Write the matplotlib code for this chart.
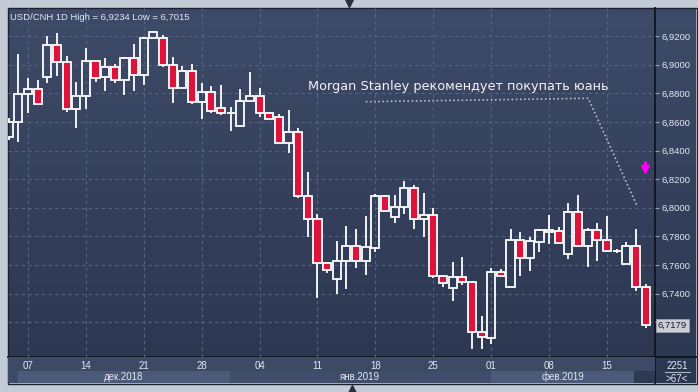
import numpy as np
import matplotlib
matplotlib.use("Agg")
import matplotlib.pyplot as plt
from matplotlib.colors import LinearSegmentedColormap
from matplotlib.patches import Rectangle
from matplotlib.transforms import blended_transform_factory

# USD/CNH daily candles, first (partly hidden) bar is index -1
opens = [6.8497, 6.8597, 6.8795, 6.8828, 6.8912, 6.9135, 6.9016, 6.8688, 6.8779, 6.9023,
         6.8912, 6.8981, 6.8891, 6.9044, 6.8926, 6.9184, 6.9184, 6.8997, 6.8835, 6.8956,
         6.8737, 6.8807, 6.8695, 6.8660, 6.8573, 6.8744, 6.8779, 6.8660, 6.8632, 6.8451,
         6.8527, 6.8085, 6.7920, 6.7612, 6.7501, 6.7631, 6.7733, 6.7631, 6.7721, 6.8080,
         6.7934, 6.8004, 6.8136, 6.7920, 6.7948, 6.7526, 6.7438, 6.7515, 6.7480, 6.7130,
         6.7089, 6.7554, 6.7445, 6.7773, 6.7647, 6.7763, 6.7833, 6.7836, 6.7675, 6.7973,
         6.7731, 6.7843, 6.7773, 6.7700, 6.7605, 6.7733, 6.7449]
closes = [6.8597, 6.8795, 6.8828, 6.8723, 6.9135, 6.9016, 6.8688, 6.8779, 6.9023, 6.8905,
          6.8981, 6.8891, 6.9044, 6.8926, 6.9184, 6.9226, 6.8997, 6.8835, 6.8956, 6.8737,
          6.8807, 6.8676, 6.8660, 6.8661, 6.8744, 6.8779, 6.8660, 6.8618, 6.8451, 6.8527,
          6.8085, 6.7920, 6.7612, 6.7566, 6.7631, 6.7733, 6.7631, 6.7724, 6.8080, 6.7976,
          6.8004, 6.8136, 6.7920, 6.7948, 6.7526, 6.7473, 6.7515, 6.7480, 6.7130, 6.7096,
          6.7554, 6.7527, 6.7773, 6.7647, 6.7768, 6.7843, 6.7843, 6.7752, 6.7973, 6.7731,
          6.7843, 6.7773, 6.7700, 6.7701, 6.7733, 6.7449, 6.7179]
highs = [6.8627, 6.9074, 6.8905, 6.8893, 6.9200, 6.9219, 6.9060, 6.8879, 6.9114, 6.9023,
         6.9046, 6.9007, 6.9055, 6.9144, 6.9195, 6.9234, 6.9207, 6.9051, 6.8993, 6.9004,
         6.8874, 6.8851, 6.8858, 6.8702, 6.8830, 6.8946, 6.8835, 6.8669, 6.8653, 6.8683,
         6.8555, 6.8248, 6.7957, 6.7612, 6.7768, 6.7873, 6.7852, 6.7943, 6.8096, 6.8089,
         6.8089, 6.8187, 6.8160, 6.8103, 6.7997, 6.7526, 6.7621, 6.7654, 6.7489, 6.7244,
         6.7577, 6.7573, 6.7852, 6.7831, 6.7796, 6.7852, 6.7950, 6.7864, 6.8032, 6.8089,
         6.7857, 6.7894, 6.7943, 6.7712, 6.7761, 6.7852, 6.7466]
lows = [6.8474, 6.8462, 6.8660, 6.8723, 6.8870, 6.8923, 6.8671, 6.8560, 6.8688, 6.8881,
        6.8818, 6.8870, 6.8790, 6.8818, 6.8860, 6.9184, 6.8981, 6.8730, 6.8835, 6.8723,
        6.8620, 6.8660, 6.8648, 6.8536, 6.8573, 6.8744, 6.8636, 6.8618, 6.8451, 6.8385,
        6.8071, 6.7798, 6.7372, 6.7547, 6.7396, 6.7433, 6.7582, 6.7531, 6.7693, 6.7976,
        6.7896, 6.7959, 6.7854, 6.7798, 6.7512, 6.7449, 6.7351, 6.7461, 6.7017, 6.7015,
        6.7047, 6.7527, 6.7445, 6.7526, 6.7561, 6.7693, 6.7747, 6.7752, 6.7645, 6.7731,
        6.7589, 6.7631, 6.7693, 6.7686, 6.7605, 6.7421, 6.7163]

day_ticks = [1, 7, 13, 19, 25, 31, 37, 43, 49, 55, 61]
day_labels = ["07", "14", "21", "28", "04", "11", "18", "25", "01", "08", "15"]
month_labels = ["дек.2018", "янв.2019", "фев.2019"]
month_edges = [-0.05, 21.9, 49.0, 63.8]
price_ticks = [6.72, 6.74, 6.76, 6.78, 6.80, 6.82, 6.84, 6.86, 6.88, 6.90, 6.92]
last_price = 6.7179
note_line_x = [36.0, 59.05, 64.07]
note_line_y = [6.8741, 6.8765, 6.8020]
signal_x, signal_y = 64.93, 6.8325

W, H = 698, 392
UP_BG = "#c3cbd7"
RED = "#dc143c"
TXT = "#e2e8f1"

fig = plt.figure(figsize=(W / 100, H / 100), dpi=100, facecolor=UP_BG)

# frame in pixel coordinates
frame = fig.add_axes([0, 0, 1, 1], zorder=0)
frame.set_xlim(0, W)
frame.set_ylim(H, 0)
frame.axis("off")
cmap = LinearSegmentedColormap.from_list("bg", ["#3e4b68", "#2b3650"])
frame.imshow(np.linspace(0, 1, 200).reshape(-1, 1), cmap=cmap, aspect="auto",
             extent=[8, 696, 383, 8], zorder=1)
frame.add_patch(Rectangle((7.5, 7.5), 689, 376, fill=False, ec="#1b2130", lw=1, zorder=2))
frame.plot([8, 696], [357, 357], color="#10141c", lw=1.3, zorder=3)
frame.plot([655, 655], [8, 383], color="#10141c", lw=1.3, zorder=3)
frame.plot([665, 690], [371.5, 371.5], color="#aab4c4", lw=0.8, zorder=3)
frame.text(677, 366, "2251", color=TXT, fontsize=7, ha="center", va="center",
           family="Liberation Sans", zorder=4)
frame.text(677, 379.5, ">67<", color=TXT, fontsize=7, ha="center", va="center",
           family="Liberation Sans", zorder=4)
frame.plot(349, 3, marker="v", ms=6, color="#2b3140", zorder=4)
frame.plot(352, 389, marker="^", ms=6, color="#2b3140", zorder=4)
frame.set_xlim(0, W)
frame.set_ylim(H, 0)

# price chart
ax = fig.add_axes([8 / W, (H - 357) / H, 647 / W, 349 / H], zorder=2)
ax.set_facecolor("none")
x = np.arange(len(opens)) - 1
o, c = np.array(opens), np.array(closes)
h, l = np.array(highs), np.array(lows)
top = np.maximum(o, c)
bot = np.minimum(o, c)
ax.vlines(x, top, h, color="white", lw=1.3, zorder=3)
ax.vlines(x, l, bot, color="white", lw=1.3, zorder=3)
faces = ["none" if cc >= oo else RED for oo, cc in zip(o, c)]
ax.bar(x, top - bot, bottom=bot, width=0.84, color=faces, edgecolor="white",
       linewidth=1.3, zorder=4)

ax.set_xlim(-1.067, 65.97)
ax.set_ylim(6.69579, 6.93956)
ax.set_xticks(day_ticks)
ax.set_xticklabels([])
ax.tick_params(axis="x", length=0)
ax.set_yticks(price_ticks)
ax.set_yticklabels(["" if v == 6.72 else f"{v:.4f}".replace(".", ",") for v in price_ticks])
ax.yaxis.tick_right()
ax.tick_params(axis="y", length=3, color="#8fa3c0", labelcolor=TXT, labelsize=6.8, pad=2)
for lab in ax.get_yticklabels():
    lab.set_family("Liberation Sans")
ax.grid(True, ls=(0, (3, 3)), color="#56657f", lw=0.8, zorder=1)
for s in ax.spines.values():
    s.set_visible(False)

ax.text(0.003, 0.985, "USD/CNH 1D High = 6,9234 Low = 6,7015", transform=ax.transAxes,
        color=TXT, fontsize=6.8, family="Liberation Sans", ha="left", va="top")
ax.text(0.4637, 0.7765, "Morgan Stanley рекомендует покупать юань", transform=ax.transAxes,
        color="#f2f2f2", fontsize=9.3, ha="left", va="center")
ax.plot(note_line_x, note_line_y, color="#b9bec7", lw=1.2, ls=(0, (1, 1.5)), zorder=5)
# magenta sell signal: short stem plus arrow head
ax.vlines(signal_x, signal_y - 0.0045, signal_y, color="#ff00ff", lw=2.2, zorder=6)
ax.plot(signal_x, signal_y - 0.0052, marker="v", ms=6, color="#ff00ff", zorder=6)

tr = blended_transform_factory(ax.transAxes, ax.transData)
ax.text(1.004, last_price, f"{last_price:.4f}".replace(".", ","), transform=tr,
        fontsize=6.8, family="Liberation Sans", color="#1a1f2b", ha="left", va="center",
        bbox=dict(boxstyle="square,pad=0.2", fc="#c9cdd4", ec="#9aa0aa", lw=0.6),
        zorder=7, clip_on=False)

# date strip
dax = fig.add_axes([8 / W, (H - 383) / H, 647 / W, 26 / H], zorder=2)
dax.set_facecolor("#3c4a66")
dax.set_xlim(-1.067, 65.97)
dax.set_ylim(0, 1)
dax.set_xticks([])
dax.set_yticks([])
for s in dax.spines.values():
    s.set_visible(False)
band_colors = ["#4b5a78", "#3f4d6a", "#4b5a78"]
for i, lab in enumerate(month_labels):
    a, b = month_edges[i], month_edges[i + 1]
    dax.add_patch(Rectangle((a, 0), b - a, 0.46, color=band_colors[i], lw=0))
    dax.text((a + b) / 2, 0.23, lab, color=TXT, fontsize=7, family="Liberation Sans",
             ha="center", va="center")
dax.add_patch(Rectangle((month_edges[-1], 0), 65.97 - month_edges[-1], 0.46,
                        color="#2e3952", lw=0))
for t, lab in zip(day_ticks, day_labels):
    dax.text(t, 0.67, lab, color=TXT, fontsize=7, family="Liberation Sans",
             ha="center", va="center")

fig.savefig("out.png", dpi=100, facecolor=UP_BG)
